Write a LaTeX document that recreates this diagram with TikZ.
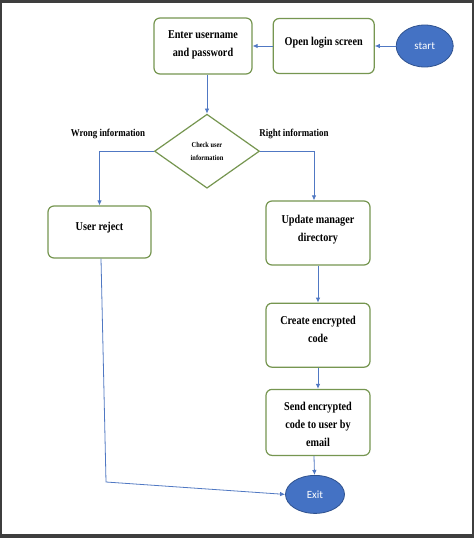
\documentclass[tikz,border=0pt]{standalone}
\usepackage{fontspec}
\setmainfont{Liberation Serif}[FakeStretch=0.85]
\newfontfamily\calibri{Carlito}
\usetikzlibrary{positioning,shapes.geometric,arrows.meta}

\definecolor{boxgreen}{RGB}{118,150,80}
\definecolor{flowblue}{RGB}{80,120,195}
\definecolor{ovalblue}{RGB}{68,114,196}
\definecolor{ovalline}{RGB}{47,82,143}
\definecolor{framegray}{RGB}{62,62,62}

\tikzset{
  stepbox/.style={draw=boxgreen, line width=1.2pt, rounded corners=6pt, fill=white,
    minimum width=104pt, minimum height=64pt, inner sep=0pt},
  boxtext/.style={anchor=north, inner sep=0pt, align=center,
    font=\fontsize{12pt}{18pt}\selectfont\bfseries},
  decision/.style={diamond, draw=boxgreen, line width=1.2pt, fill=white,
    minimum width=105pt, minimum height=74pt, inner sep=0pt, align=center,
    font=\fontsize{7.5pt}{13pt}\selectfont\bfseries},
  terminal/.style={ellipse, draw=ovalline, line width=0.8pt, fill=ovalblue,
    inner sep=0pt, text=white, font=\calibri\fontsize{11pt}{13pt}\selectfont},
  flow/.style={draw=flowblue, line width=0.8pt, -{Latex[length=5pt,width=4.5pt]}},
  note/.style={inner sep=0pt, font=\fontsize{10.5pt}{12pt}\selectfont\bfseries}
}

\begin{document}
\begin{tikzpicture}[x=1pt, y=-1pt]

  % Frame
  \fill[framegray] (0,0) rectangle (474,538);
  \fill[white] (2,3) rectangle (472,534);
  \useasboundingbox (0,0) rectangle (474,538);

  % Define nodes
  \node[stepbox, minimum width=98pt, minimum height=56pt,
    label={[boxtext, yshift=-12.8pt]north:Enter username\\and password}]  (enter) at (203,46) {};
  \node[stepbox, minimum width=101pt, minimum height=55pt, right=20pt of enter,
    label={[boxtext, yshift=-18.8pt]north:Open login screen}]             (open) {};
  \node[terminal, minimum width=57pt, minimum height=42pt, right=21pt of open] (start) {start};

  \node[decision, below=39pt of enter, xshift=4pt]  (check) {Check user\\information};

  \node[stepbox, minimum width=103pt, minimum height=52pt,
    label={[boxtext, yshift=-16.8pt]north:User reject}]                   (reject) at (99.5,232) {};
  \node[stepbox, label={[boxtext, yshift=-14.8pt]north:Update manager\\directory}] (update) at (318,233) {};
  \node[stepbox, below=37pt of update,
    label={[boxtext, yshift=-13.8pt]north:Create encrypted\\code}]         (create) {};
  \node[stepbox, minimum height=66pt, below=21pt of create,
    label={[boxtext, yshift=-12.8pt]north:Send encrypted\\code to user by\\email}] (send) {};
  \node[terminal, minimum width=59pt, minimum height=38pt, below=19pt of send, xshift=-3pt] (exit) {Exit};

  \node[note] (wrong) at (108,134) {Wrong information};
  \node[note] (right) at (294,134) {Right information};

  \coordinate (bend) at (106,482);

  % Connect the nodes
  \draw[flow] (start) -- (open);
  \draw[flow] (open) -- (enter);
  \draw[flow] (enter.south -| check) -- (check);
  \draw[flow] (check.west) -| (reject.north);
  \draw[flow] (check.east) -| ([xshift=-4pt]update.north);
  \draw[flow] (update) -- (create);
  \draw[flow] (create) -- (send);
  \draw[flow] ([xshift=-4pt]send.south) -- (exit);
  \draw[flow] ([xshift=1.5pt]reject.south) -- (bend) -- (exit.west);

\end{tikzpicture}
\end{document}
